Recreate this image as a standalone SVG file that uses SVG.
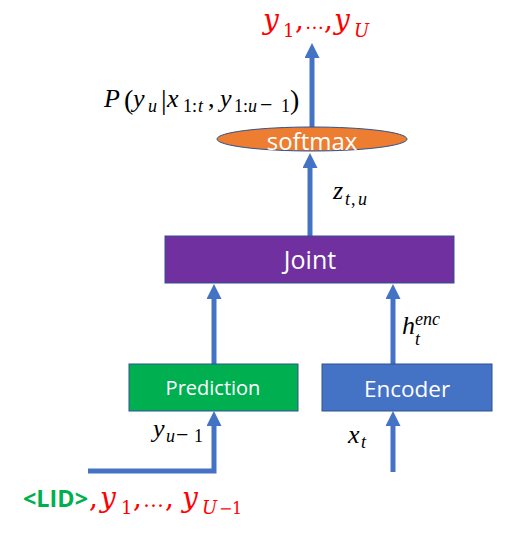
<svg xmlns="http://www.w3.org/2000/svg" width="518" height="555" viewBox="0 0 518 555">
<style>
.box{stroke:#2F528F;stroke-width:1}
.lbl{font-family:"Open Sans","Liberation Sans",sans-serif;fill:#FFFFFF;text-anchor:middle}
.m{font-family:"Liberation Serif","DejaVu Serif",serif;font-size:26px;fill:#000000}
.i{font-style:italic}
.s{font-size:18px}
.r{font-family:"DejaVu Serif","Liberation Serif",serif;fill:#FF0000}
.conn{fill:none;stroke:#4472C4;stroke-width:5;marker-end:url(#ah)}
</style>
<defs>
<marker id="ah" markerUnits="userSpaceOnUse" markerWidth="15" markerHeight="15" viewBox="0 0 15 15" refX="1" refY="7.5" orient="auto">
<path d="M0,0 L15,7.5 L0,15 z" fill="#4472C4"/>
</marker>
</defs>
<rect width="518" height="555" fill="#FFFFFF"/>

<g id="connectors">
<path class="conn" d="M312,128 L312,57"/>
<path class="conn" d="M310,236 L310,167"/>
<path class="conn" d="M214,364 L214,298"/>
<path class="conn" d="M393,364 L393,298"/>
<path class="conn" d="M88,471 L214,471 L214,425"/>
<path class="conn" d="M393,472 L393,425"/>
</g>

<g id="softmax">
<ellipse cx="312" cy="139" rx="95" ry="12" fill="#ED7D31" class="box"/>
<text x="312" y="150" class="lbl" font-size="24">softmax</text>
</g>

<g id="joint">
<rect x="165" y="236" width="289" height="47" fill="#7030A0" class="box"/>
<text x="310" y="269" class="lbl" font-size="25">Joint</text>
</g>

<g id="prediction">
<rect x="129" y="364" width="169" height="47" fill="#00B050" class="box"/>
<text x="213" y="395" class="lbl" font-size="20">Prediction</text>
</g>

<g id="encoder">
<rect x="322" y="364" width="170" height="47" fill="#4472C4" class="box"/>
<text x="407" y="397" class="lbl" font-size="22.5">Encoder</text>
</g>

<g id="output-label">
<text class="r" font-size="28">
<tspan x="263" y="29" class="i">y</tspan><tspan x="283" y="37" font-size="18">1</tspan><tspan x="295" y="29">,</tspan><tspan x="305" y="29" font-size="19">…</tspan><tspan x="324" y="29">,</tspan><tspan x="334" y="29" class="i">y</tspan><tspan x="354" y="37" font-size="18" class="i">U</tspan>
</text>
</g>

<g id="prob-label">
<text class="m">
<tspan x="104" y="107" class="i">P</tspan><tspan x="124" y="109" font-size="28">(</tspan><tspan x="133" y="107" class="i">y</tspan><tspan x="148" y="112" class="i s">u</tspan><tspan x="161" y="109" font-size="28">|</tspan><tspan x="167" y="107" class="i">x</tspan><tspan x="183" y="112" class="s">1</tspan><tspan x="192" y="112" class="s">:</tspan><tspan x="198" y="112" class="i s">t</tspan><tspan x="208" y="107">,</tspan><tspan x="220" y="107" class="i">y</tspan><tspan x="234" y="112" class="s">1</tspan><tspan x="243" y="112" class="s">:</tspan><tspan x="248" y="112" class="i s">u</tspan><tspan x="260" y="112" font-size="22">−</tspan><tspan x="281" y="112" class="s">1</tspan><tspan x="290" y="109" font-size="28">)</tspan>
</text>
</g>

<g id="z-label">
<text class="m">
<tspan x="333" y="199" class="i">z</tspan><tspan x="345" y="205" class="i s">t</tspan><tspan x="351" y="205" class="s">,</tspan><tspan x="358" y="205" class="i s">u</tspan>
</text>
</g>

<g id="h-label">
<text class="m">
<tspan x="402" y="334" class="i">h</tspan><tspan x="415" y="325" class="i s">enc</tspan><tspan x="415" y="345" class="i s">t</tspan>
</text>
</g>

<g id="yu1-label">
<text class="m">
<tspan x="153" y="437" class="i">y</tspan><tspan x="166" y="442" class="i s">u</tspan><tspan x="176" y="442" font-size="22">−</tspan><tspan x="194" y="442" class="s">1</tspan>
</text>
</g>

<g id="xt-label">
<text class="m">
<tspan x="348" y="443" class="i">x</tspan><tspan x="361" y="448" class="i s">t</tspan>
</text>
</g>

<g id="input-label">
<text x="23" y="507" font-family="'Open Sans','Liberation Sans',sans-serif" font-weight="bold" font-size="23" fill="#00B050" textLength="65" lengthAdjust="spacingAndGlyphs">&lt;LID&gt;</text>
<text class="r" font-size="28">
<tspan x="89" y="507">,</tspan><tspan x="100" y="507" class="i">y</tspan><tspan x="121" y="514" font-size="18">1</tspan><tspan x="133" y="507">,</tspan><tspan x="143" y="507" font-size="21">…</tspan><tspan x="165" y="507">,</tspan><tspan x="182" y="507" class="i">y</tspan><tspan x="202" y="514" font-size="18" class="i">U</tspan><tspan x="219" y="514" font-size="16">−</tspan><tspan x="232" y="514" font-size="16">1</tspan>
</text>
</g>
</svg>
